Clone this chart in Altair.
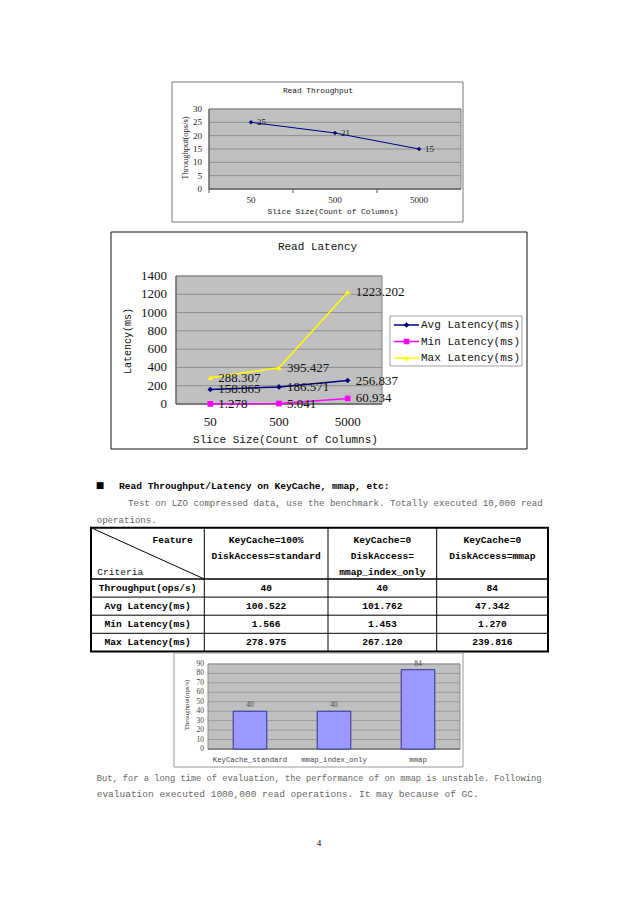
import altair as alt
import pandas as pd

# ---------------- data ----------------
slice_sizes = ["50", "500", "5000"]
read_throughput = [25, 21, 15]
throughput_ticks = [0, 5, 10, 15, 20, 25, 30]

latency_series = ["Avg Latency(ms)", "Min Latency(ms)", "Max Latency(ms)"]
avg_latency = [158.865, 186.571, 256.837]
min_latency = [1.278, 5.041, 60.934]
max_latency = [288.307, 395.427, 1223.202]
latency_ticks = [0, 200, 400, 600, 800, 1000, 1200, 1400]

feature_headers = [
    ["KeyCache=100%", "DiskAccess=standard"],
    ["KeyCache=0", "DiskAccess=", "mmap_index_only"],
    ["KeyCache=0", "DiskAccess=mmap"],
]
criteria = ["Throughput(ops/s)", "Avg Latency(ms)", "Min Latency(ms)", "Max Latency(ms)"]
table_values = [
    ["40", "40", "84"],
    ["100.522", "101.762", "47.342"],
    ["1.566", "1.453", "1.270"],
    ["278.975", "267.120", "239.816"],
]

configs = ["KeyCache_standard", "mmap_index_only", "mmap"]
config_throughput = [40, 40, 84]
bar_ticks = [0, 10, 20, 30, 40, 50, 60, 70, 80, 90]

heading = "Read Throughput/Latency on KeyCache, mmap, etc:"
para1 = ["Test on LZO compressed data, use the benchmark. Totally executed 10,000 read",
         "operations."]
para2 = ["But, for a long time of evaluation, the performance of on mmap is unstable. Following",
         "evaluation executed 1000,000 read operations. It may because of GC."]
page_number = "4"

# ---------------- styles / layout ----------------
MONO = "Liberation Mono"
SERIF = "Liberation Serif"
PLOT_BG = "#C0C0C0"
GRID = "#8C8C8C"
ONE = pd.DataFrame({"k": [0]})

layers = []


def rect(x1, y1, x2, y2, fill=None, stroke=None, sw=1.0):
    kw = {}
    if fill:
        kw["fill"] = fill
    else:
        kw["fillOpacity"] = 0
    if stroke:
        kw["stroke"] = stroke
        kw["strokeWidth"] = sw
    return alt.Chart(ONE).mark_rect(**kw).encode(
        x=alt.value(x1), x2=alt.value(x2), y=alt.value(y1), y2=alt.value(y2))


def seg(x1, y1, x2, y2, color="black", sw=1.0):
    return alt.Chart(ONE).mark_rule(color=color, strokeWidth=sw).encode(
        x=alt.value(x1), x2=alt.value(x2), y=alt.value(y1), y2=alt.value(y2))


def txt(text, x, y, size, font=MONO, color="black", align="center", bold=False, angle=0):
    kw = dict(text=text, fontSize=size, font=font, color=color, align=align, baseline="middle")
    if bold:
        kw["fontWeight"] = "bold"
    if angle:
        kw["angle"] = angle
    return alt.Chart(ONE).mark_text(**kw).encode(x=alt.value(x), y=alt.value(y))


# =============== Chart 1 : Read Throughput ===============
tp_df = pd.DataFrame({"size": slice_sizes, "tp": read_throughput})
tp_ticks = pd.DataFrame({"t": throughput_ticks})
x1s = alt.Scale(type="point", domain=slice_sizes, range=[201, 453], padding=0.5)
x1b = alt.Scale(type="band", domain=slice_sizes, range=[201, 453], paddingInner=0, paddingOuter=0)
y1s = alt.Scale(domain=[0, 30], range=[181, 101], nice=False, zero=False)

layers += [
    rect(164, 74, 455, 214, fill="white", stroke="#777777"),
    rect(201, 101, 453, 181, fill=PLOT_BG, stroke="#808080"),
    alt.Chart(tp_ticks).mark_rule(color=GRID, strokeWidth=1).encode(
        y=alt.Y("t:Q", scale=y1s, axis=None), x=alt.value(201), x2=alt.value(453)),
    seg(201, 101, 201, 181, color="#555555"),
    seg(201, 181, 453, 181, color="#555555"),
    alt.Chart(tp_df).mark_rule(color="#555555").encode(
        x=alt.X("size:N", scale=x1b, bandPosition=0, axis=None),
        y=alt.value(181), y2=alt.value(185)),
    alt.Chart(tp_ticks).mark_text(align="right", baseline="middle", font=SERIF, fontSize=9, color="#222222").encode(
        y=alt.Y("t:Q", scale=y1s, axis=None), x=alt.value(194), text=alt.Text("t:Q", format="d")),
    alt.Chart(tp_df).mark_text(baseline="middle", font=SERIF, fontSize=9, color="#222222").encode(
        x=alt.X("size:N", scale=x1s, axis=None), y=alt.value(192), text="size:N"),
    alt.Chart(tp_df).mark_line(color="#000080", strokeWidth=1).encode(
        x=alt.X("size:N", scale=x1s, axis=None), y=alt.Y("tp:Q", scale=y1s, axis=None)),
    alt.Chart(tp_df).mark_point(shape="diamond", filled=True, size=20, color="#000080", opacity=1).encode(
        x=alt.X("size:N", scale=x1s, axis=None), y=alt.Y("tp:Q", scale=y1s, axis=None)),
    alt.Chart(tp_df).mark_text(align="left", baseline="middle", dx=6, font=SERIF, fontSize=9, color="#222222").encode(
        x=alt.X("size:N", scale=x1s, axis=None), y=alt.Y("tp:Q", scale=y1s, axis=None),
        text=alt.Text("tp:Q", format="d")),
    txt("Read Throughput", 310, 83, 7.8, color="#222222"),
    txt("Slice Size(Count of Columns)", 325, 204, 7.8, color="#222222"),
    txt("Throughput(ops/s)", 177, 140, 8.5, font=SERIF, color="#222222", angle=270),
]

# =============== Chart 2 : Read Latency ===============
lat_rows = []
for name, vals in zip(latency_series, [avg_latency, min_latency, max_latency]):
    for s, v in zip(slice_sizes, vals):
        lat_rows.append({"series": name, "size": s, "ms": v})
lat_df = pd.DataFrame(lat_rows)
lat_ticks = pd.DataFrame({"t": latency_ticks})
x2s = alt.Scale(type="point", domain=slice_sizes, range=[168, 374], padding=0.5)
y2s = alt.Scale(domain=[0, 1400], range=[396, 268], nice=False, zero=False)
color = alt.Color("series:N", scale=alt.Scale(domain=latency_series,
                  range=["#000080", "#FF00FF", "#FFFF00"]), legend=None)
shape = alt.Shape("series:N", scale=alt.Scale(domain=latency_series,
                  range=["diamond", "square", "triangle-up"]), legend=None)
legy = alt.Scale(type="point", domain=latency_series, range=[317, 350], padding=0)
leg_df = pd.DataFrame({"series": latency_series})

layers += [
    rect(103, 224, 519, 441, fill="white", stroke="#111111"),
    rect(168, 268, 374, 396, fill=PLOT_BG, stroke="#808080"),
    alt.Chart(lat_ticks).mark_rule(color=GRID, strokeWidth=1).encode(
        y=alt.Y("t:Q", scale=y2s, axis=None), x=alt.value(168), x2=alt.value(374)),
    seg(168, 268, 168, 396, color="#555555"),
    seg(168, 396, 374, 396, color="#555555"),
    alt.Chart(lat_ticks).mark_text(align="right", baseline="middle", font=SERIF, fontSize=13, color="#111111").encode(
        y=alt.Y("t:Q", scale=y2s, axis=None), x=alt.value(159), text=alt.Text("t:Q", format="d")),
    alt.Chart(tp_df).mark_text(baseline="middle", font=SERIF, fontSize=13, color="#111111").encode(
        x=alt.X("size:N", scale=x2s, axis=None), y=alt.value(414), text="size:N"),
    alt.Chart(lat_df).mark_line(strokeWidth=1.5).encode(
        x=alt.X("size:N", scale=x2s, axis=None), y=alt.Y("ms:Q", scale=y2s, axis=None), color=color),
    alt.Chart(lat_df).mark_point(filled=True, size=32, opacity=1).encode(
        x=alt.X("size:N", scale=x2s, axis=None), y=alt.Y("ms:Q", scale=y2s, axis=None),
        color=color, shape=shape),
    alt.Chart(lat_df).mark_text(align="left", baseline="middle", dx=8, font=SERIF, fontSize=13, color="#111111").encode(
        x=alt.X("size:N", scale=x2s, axis=None), y=alt.Y("ms:Q", scale=y2s, axis=None),
        text=alt.Text("ms:Q", format=".3f")),
    txt("Read Latency", 309.5, 239, 11, color="#111111"),
    txt("Slice Size(Count of Columns)", 277.5, 432, 11, color="#111111"),
    txt("Latency(ms)", 120, 333, 10, color="#111111", angle=270),
    # legend
    rect(382, 308, 514, 358, fill="white", stroke="#A0A0A0"),
    alt.Chart(leg_df).mark_rule(strokeWidth=1.5).encode(
        y=alt.Y("series:N", scale=legy, axis=None), x=alt.value(386), x2=alt.value(411), color=color),
    alt.Chart(leg_df).mark_point(filled=True, size=32, opacity=1).encode(
        y=alt.Y("series:N", scale=legy, axis=None), x=alt.value(398.5), color=color, shape=shape),
    alt.Chart(leg_df).mark_text(align="left", baseline="middle", font=MONO, fontSize=11, color="#111111").encode(
        y=alt.Y("series:N", scale=legy, axis=None), x=alt.value(413), text="series:N"),
]

# =============== Text block ===============
layers += [
    txt("\u25A0", 92, 477, 9, font="DejaVu Sans"),
    txt(heading, 111, 477.5, 9.6, bold=True, align="left"),
    txt(para1[0], 120, 495.3, 9.1, color="#666666", align="left"),
    txt(para1[1], 88.7, 512, 9.1, color="#666666", align="left"),
]

# =============== Table ===============
COL_EDGES = [83, 196.3, 320, 428.7, 540]
TOP, HEAD_BOTTOM, BOTTOM = 519.7, 571, 643.5
ROW_LINES = [589.1, 607.2, 625.3]
centers = [(COL_EDGES[i] + COL_EDGES[i + 1]) / 2 for i in range(4)]

layers += [rect(COL_EDGES[0], TOP, COL_EDGES[-1], BOTTOM, fill="white")]
for xe in COL_EDGES[1:-1]:
    layers.append(seg(xe, TOP, xe, BOTTOM, sw=1))
layers.append(seg(COL_EDGES[0], HEAD_BOTTOM, COL_EDGES[-1], HEAD_BOTTOM, sw=1.6))
for yl in ROW_LINES:
    layers.append(seg(COL_EDGES[0], yl, COL_EDGES[-1], yl, sw=1))
layers.append(seg(COL_EDGES[0], TOP, COL_EDGES[1], HEAD_BOTTOM, sw=1))
layers.append(rect(COL_EDGES[0], TOP, COL_EDGES[-1], BOTTOM, stroke="black", sw=2))

layers += [
    txt("Feature", 184.7, 532, 9.6, bold=True, align="right"),
    txt("Criteria", 89.3, 564, 9.6, align="left", color="#222222"),
]
head_rows = []
for ci, lines in enumerate(feature_headers):
    for li, t in enumerate(lines):
        head_rows.append({"col": ci + 1, "line": li, "text": t})
head_df = pd.DataFrame(head_rows)
head_y = alt.Scale(type="point", domain=[0, 1, 2], range=[532, 564], padding=0)
for ci in range(1, 4):
    layers.append(
        alt.Chart(head_df[head_df["col"] == ci]).mark_text(
            font=MONO, fontSize=9.6, fontWeight="bold", baseline="middle").encode(
            y=alt.Y("line:O", scale=head_y, axis=None), x=alt.value(centers[ci]), text="text:N"))

body_rows = []
for ri, crit in enumerate(criteria):
    body_rows.append({"row": crit, "col": 0, "text": crit})
    for ci, v in enumerate(table_values[ri]):
        body_rows.append({"row": crit, "col": ci + 1, "text": v})
body_df = pd.DataFrame(body_rows)
row_y = alt.Scale(type="point", domain=criteria, range=[580, 634.4], padding=0)
for ci in range(4):
    layers.append(
        alt.Chart(body_df[body_df["col"] == ci]).mark_text(
            font=MONO, fontSize=9.6, fontWeight="bold", baseline="middle").encode(
            y=alt.Y("row:N", scale=row_y, axis=None), x=alt.value(centers[ci]), text="text:N"))

# =============== Chart 3 : bar chart ===============
bar_df = pd.DataFrame({"cfg": configs, "tp": config_throughput})
bar_tick_df = pd.DataFrame({"t": bar_ticks})
xbs = alt.Scale(type="band", domain=configs, range=[200, 452], paddingInner=0.6, paddingOuter=0.3)
ybs = alt.Scale(domain=[0, 90], range=[741, 656], nice=False, zero=True)

layers += [
    rect(166, 645, 455, 759, fill="white", stroke="#999999"),
    rect(200, 656, 452, 741, fill=PLOT_BG, stroke="#8C8C8C"),
    alt.Chart(bar_tick_df).mark_rule(color="#999999", strokeWidth=1).encode(
        y=alt.Y("t:Q", scale=ybs, axis=None), x=alt.value(200), x2=alt.value(452)),
    seg(200, 741, 452, 741, color="#666666"),
    alt.Chart(bar_tick_df).mark_text(align="right", baseline="middle", font=SERIF, fontSize=7.5, color="#444444").encode(
        y=alt.Y("t:Q", scale=ybs, axis=None), x=alt.value(196), text=alt.Text("t:Q", format="d")),
    alt.Chart(bar_df).mark_bar(fill="#9999FF", stroke="#333399", strokeWidth=1).encode(
        x=alt.X("cfg:N", scale=xbs, axis=None), y=alt.Y("tp:Q", scale=ybs, axis=None)),
    alt.Chart(bar_df).mark_text(baseline="bottom", dy=-2, font=SERIF, fontSize=7.5, color="#444444").encode(
        x=alt.X("cfg:N", scale=xbs, axis=None), y=alt.Y("tp:Q", scale=ybs, axis=None),
        text=alt.Text("tp:Q", format="d")),
    alt.Chart(bar_df).mark_text(baseline="middle", font=MONO, fontSize=7.3, color="#444444").encode(
        x=alt.X("cfg:N", scale=xbs, axis=None), y=alt.value(752), text="cfg:N"),
    txt("Throughput(ops/s)", 179.3, 697, 6.8, font=SERIF, color="#444444", angle=270),
]

# =============== Bottom text ===============
layers += [
    txt(para2[0], 88.7, 770.3, 8.72, color="#666666", align="left"),
    txt(para2[1], 88.7, 786.3, 9.5, color="#666666", align="left"),
    txt(page_number, 311, 835, 9, font=SERIF),
]

chart = (
    alt.layer(*layers)
    .resolve_scale(x="independent", y="independent")
    .properties(width=622, height=886, padding=0, autosize=alt.AutoSizeParams(type="none"),
                background="white")
    .configure_view(stroke=None)
)

chart.save("out.html", embed_options={"renderer": "svg", "actions": False})
